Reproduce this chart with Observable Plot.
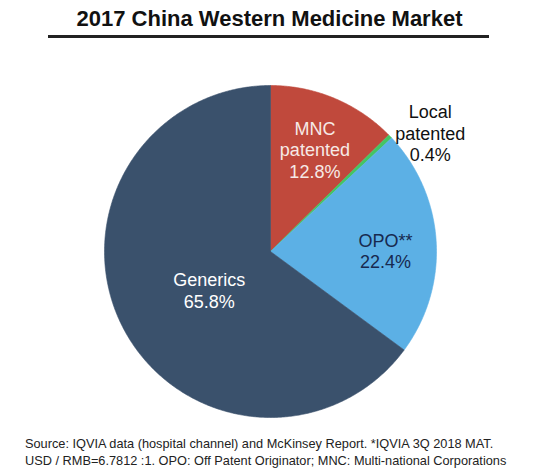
<!DOCTYPE html>
<html>
<head>
<meta charset="utf-8">
<script src="https://cdn.jsdelivr.net/npm/d3@7"></script>
<script src="https://cdn.jsdelivr.net/npm/@observablehq/plot@0.6"></script>
<style>
  html, body { margin: 0; padding: 0; background: #fff; }
  body { width: 558px; height: 474px; position: relative; overflow: hidden; font-family: "Liberation Sans", Arial, sans-serif; }
  #title { position: absolute; left: 0; top: 6px; width: 539px; text-align: center; font-weight: bold; font-size: 22px; line-height: 26px; color: #111; }
  #rule { position: absolute; left: 48px; top: 35px; width: 441px; height: 3px; background: #222; }
  #chart { position: absolute; left: 0; top: 42px; }
  #footer { position: absolute; left: 25px; top: 435px; font-size: 12.75px; line-height: 17px; color: #222; white-space: nowrap; }
</style>
</head>
<body>
<div id="title">2017 China Western Medicine Market</div>
<div id="rule"></div>
<div id="chart"></div>
<div id="footer">Source: IQVIA data (hospital channel) and McKinsey Report. *IQVIA 3Q 2018 MAT.<br>USD / RMB=6.7812 :1. OPO: Off Patent Originator; MNC: Multi-national Corporations</div>
<script>
// Data (clockwise from 12 o'clock)
const names = ["MNC patented", "Local patented", "OPO**", "Generics"];
const shares = [12.8, 0.4, 22.4, 65.8];
const labelNames = ["MNC\npatented", "Local\npatented", "OPO**", "Generics"];

// Styles / layout
const sliceColors = ["#c0493c", "#45c463", "#5cb0e5", "#3a516c"];
const labelColors = ["#f6e9e6", "#111111", "#17294f", "#ffffff"];
const labelRadius = [0.67, 1.2, 0.693, 0.436];
const labelAngleShift = [0.8, 7.2, 2.9, -5.5];

const W = 558, H = 386, R = 166, CX = 270, CY = 209;

// Slice angles from the values
const total = d3.sum(shares);
let acc = 0;
const slices = names.map((name, i) => {
  const a0 = acc / total * 360;
  acc += shares[i];
  const a1 = acc / total * 360;
  return {name, value: shares[i], a0, a1, i};
});

// Polygon points for each slice in unit-radius coordinates
const rad = d => d * Math.PI / 180;
const pts = [];
for (const s of slices) {
  pts.push({name: s.name, x: 0, y: 0});
  const n = Math.max(2, Math.ceil((s.a1 - s.a0) / 0.5));
  for (let k = 0; k <= n; k++) {
    const a = rad(s.a0 + (s.a1 - s.a0) * k / n);
    pts.push({name: s.name, x: Math.sin(a), y: Math.cos(a)});
  }
  pts.push({name: s.name, x: 0, y: 0});
}

const labelMarks = slices.map(s => {
  const a = rad((s.a0 + s.a1) / 2 + labelAngleShift[s.i]);
  const r = labelRadius[s.i];
  return Plot.text([s], {
    x: () => r * Math.sin(a),
    y: () => r * Math.cos(a),
    text: d => `${labelNames[d.i]}\n${d.value.toFixed(1)}%`,
    fill: labelColors[s.i],
    fontSize: 18,
    lineHeight: 1.2,
    textAnchor: "middle",
    fontFamily: "Liberation Sans, Arial, sans-serif"
  });
});

const chart = Plot.plot({
  width: W,
  height: H,
  margin: 0,
  x: {domain: [-CX / R, (W - CX) / R], axis: null},
  y: {domain: [-(H - CY) / R, CY / R], axis: null},
  color: {domain: names, range: sliceColors},
  style: {background: "transparent", overflow: "visible"},
  marks: [
    Plot.line(pts, {x: "x", y: "y", z: "name", fill: "name", stroke: "name", strokeWidth: 0.6, curve: "linear"}),
    ...labelMarks
  ]
});
document.getElementById("chart").appendChild(chart);
</script>
</body>
</html>
